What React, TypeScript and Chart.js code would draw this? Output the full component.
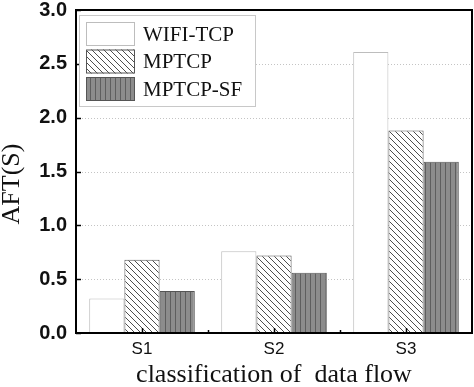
import { useEffect, useRef } from 'react';
import { Chart, registerables } from 'chart.js';

Chart.register(...registerables);

const categories = ['S1', 'S2', 'S3'];
const seriesNames = ['WIFI-TCP', 'MPTCP', 'MPTCP-SF'];
const wifiTcp = [0.32, 0.76, 2.61];
const mptcp = [0.68, 0.72, 1.88];
const mptcpSf = [0.39, 0.56, 1.59];
const yTicks = [0, 0.5, 1.0, 1.5, 2.0, 2.5, 3.0];
const xTitle = 'classification of  data flow';
const yTitle = 'AFT(S)';

function hatchPattern(): CanvasPattern | string {
  const c = document.createElement('canvas');
  c.width = 6;
  c.height = 6;
  const g = c.getContext('2d');
  if (!g) return '#ddd';
  g.fillStyle = '#ffffff';
  g.fillRect(0, 0, 6, 6);
  g.strokeStyle = '#3a3a3a';
  g.lineWidth = 0.9;
  g.beginPath();
  g.moveTo(-1, -1); g.lineTo(7, 7);
  g.moveTo(-1, 5); g.lineTo(1, 7);
  g.moveTo(5, -1); g.lineTo(7, 1);
  g.stroke();
  return g.createPattern(c, 'repeat') || '#ddd';
}

function verticalPattern(): CanvasPattern | string {
  const c = document.createElement('canvas');
  c.width = 5;
  c.height = 4;
  const g = c.getContext('2d');
  if (!g) return '#888';
  g.fillStyle = '#8c8c8c';
  g.fillRect(0, 0, 5, 4);
  g.fillStyle = '#5e5e5e';
  g.fillRect(0, 0, 1, 4);
  return g.createPattern(c, 'repeat') || '#888';
}

const decorPlugin = {
  id: 'decor',
  beforeDatasetsDraw(chart: any) {
    const { ctx, chartArea } = chart;
    const { left, right } = chartArea;
    const y = chart.scales.y;
    ctx.save();
    ctx.strokeStyle = '#c4c4c4';
    ctx.lineWidth = 1;
    ctx.setLineDash([1, 2]);
    yTicks.forEach((v) => {
      if (v === 0 || v === 3) return;
      const py = Math.round(y.getPixelForValue(v)) + 0.5;
      ctx.beginPath();
      ctx.moveTo(left, py);
      ctx.lineTo(right, py);
      ctx.stroke();
    });
    ctx.restore();
  },
  afterDatasetsDraw(chart: any) {
    const { ctx, chartArea } = chart;
    const { left, right, top, bottom } = chartArea;
    const x = chart.scales.x;
    const y = chart.scales.y;
    ctx.save();
    ctx.strokeStyle = '#000';
    ctx.lineWidth = 1.5;
    yTicks.forEach((v) => {
      const py = Math.round(y.getPixelForValue(v)) + 0.5;
      ctx.beginPath();
      ctx.moveTo(left, py);
      ctx.lineTo(left + 5, py);
      ctx.stroke();
    });
    categories.forEach((_, i) => {
      const px = Math.round(x.getPixelForValue(i)) + 0.5;
      ctx.beginPath();
      ctx.moveTo(px, bottom);
      ctx.lineTo(px, bottom - 5);
      ctx.stroke();
      if (i < categories.length - 1) {
        const mx = Math.round((x.getPixelForValue(i) + x.getPixelForValue(i + 1)) / 2) + 0.5;
        ctx.beginPath();
        ctx.moveTo(mx, bottom);
        ctx.lineTo(mx, bottom - 3);
        ctx.stroke();
      }
    });
    ctx.lineWidth = 2;
    ctx.strokeStyle = '#000';
    ctx.strokeRect(left, top, right - left, bottom - top);

    const lx = left + 3;
    const ly = top + 5;
    ctx.fillStyle = '#fff';
    ctx.fillRect(lx, ly, 176, 91);
    ctx.lineWidth = 1;
    ctx.strokeStyle = '#c8c8c8';
    ctx.strokeRect(lx + 0.5, ly + 0.5, 176, 91);
    chart.data.datasets.forEach((ds: any, i: number) => {
      const sy = ly + 7 + i * 27.5;
      ctx.fillStyle = ds.backgroundColor;
      ctx.fillRect(lx + 7, sy, 49, 24);
      ctx.strokeStyle = ds.borderColor;
      ctx.lineWidth = 1;
      ctx.strokeRect(lx + 7.5, sy + 0.5, 48, 23);
      ctx.fillStyle = '#111';
      ctx.font = '21px "Liberation Serif", "Times New Roman", serif';
      ctx.textBaseline = 'middle';
      ctx.textAlign = 'left';
      ctx.fillText(ds.label, lx + 64, sy + 13);
    });

    ctx.fillStyle = '#111';
    ctx.font = '26px "Liberation Serif", "Times New Roman", serif';
    ctx.textAlign = 'center';
    ctx.textBaseline = 'alphabetic';
    ctx.fillText(xTitle, (left + right) / 2, 382);
    ctx.translate(19, 184);
    ctx.rotate(-Math.PI / 2);
    ctx.fillText(yTitle, 0, 0);
    ctx.restore();
  },
};

export default function App() {
  const canvasRef = useRef<HTMLCanvasElement | null>(null);

  useEffect(() => {
    document.body.style.margin = '0';
    const canvas = canvasRef.current;
    if (!canvas) return;
    const chart = new Chart(canvas, {
      type: 'bar',
      data: {
        labels: categories,
        datasets: [
          {
            label: seriesNames[0],
            data: wifiTcp,
            backgroundColor: '#ffffff',
            borderColor: '#bdbdbd',
            borderWidth: 1,
          },
          {
            label: seriesNames[1],
            data: mptcp,
            backgroundColor: hatchPattern() as any,
            borderColor: '#555555',
            borderWidth: 1,
          },
          {
            label: seriesNames[2],
            data: mptcpSf,
            backgroundColor: verticalPattern() as any,
            borderColor: '#555555',
            borderWidth: 1,
          },
        ],
      },
      options: {
        animation: false,
        responsive: false,
        maintainAspectRatio: false,
        layout: { padding: { top: 10, right: 2, left: 0, bottom: 0 } },
        datasets: {
          bar: { categoryPercentage: 0.8, barPercentage: 1.0 },
        },
        plugins: {
          legend: { display: false },
          tooltip: { enabled: false },
        },
        scales: {
          x: {
            grid: { display: false, drawTicks: false },
            border: { display: false },
            ticks: {
              color: '#111',
              padding: 6,
              font: { family: '"Liberation Sans", Arial, sans-serif', size: 17 },
            },
            afterFit: (s: any) => {
              s.height = 54;
              s.paddingLeft = 0;
              s.paddingRight = 0;
            },
          },
          y: {
            min: 0,
            max: 3,
            grid: { display: false, drawTicks: false },
            border: { display: false },
            afterBuildTicks: (s: any) => {
              s.ticks = yTicks.map((v) => ({ value: v }));
            },
            ticks: {
              color: '#111',
              padding: 9,
              font: { family: '"Liberation Sans", Arial, sans-serif', size: 20, weight: 'bold' },
              callback: (v: any) => Number(v).toFixed(1),
            },
            afterFit: (s: any) => {
              s.width = 76;
              s.paddingTop = 0;
              s.paddingBottom = 0;
            },
          },
        },
      },
      plugins: [decorPlugin],
    });
    return () => chart.destroy();
  }, []);

  return (
    <div style={{ width: 474, height: 387, background: '#fff' }}>
      <canvas ref={canvasRef} width={474} height={387} style={{ display: 'block' }} />
    </div>
  );
}
